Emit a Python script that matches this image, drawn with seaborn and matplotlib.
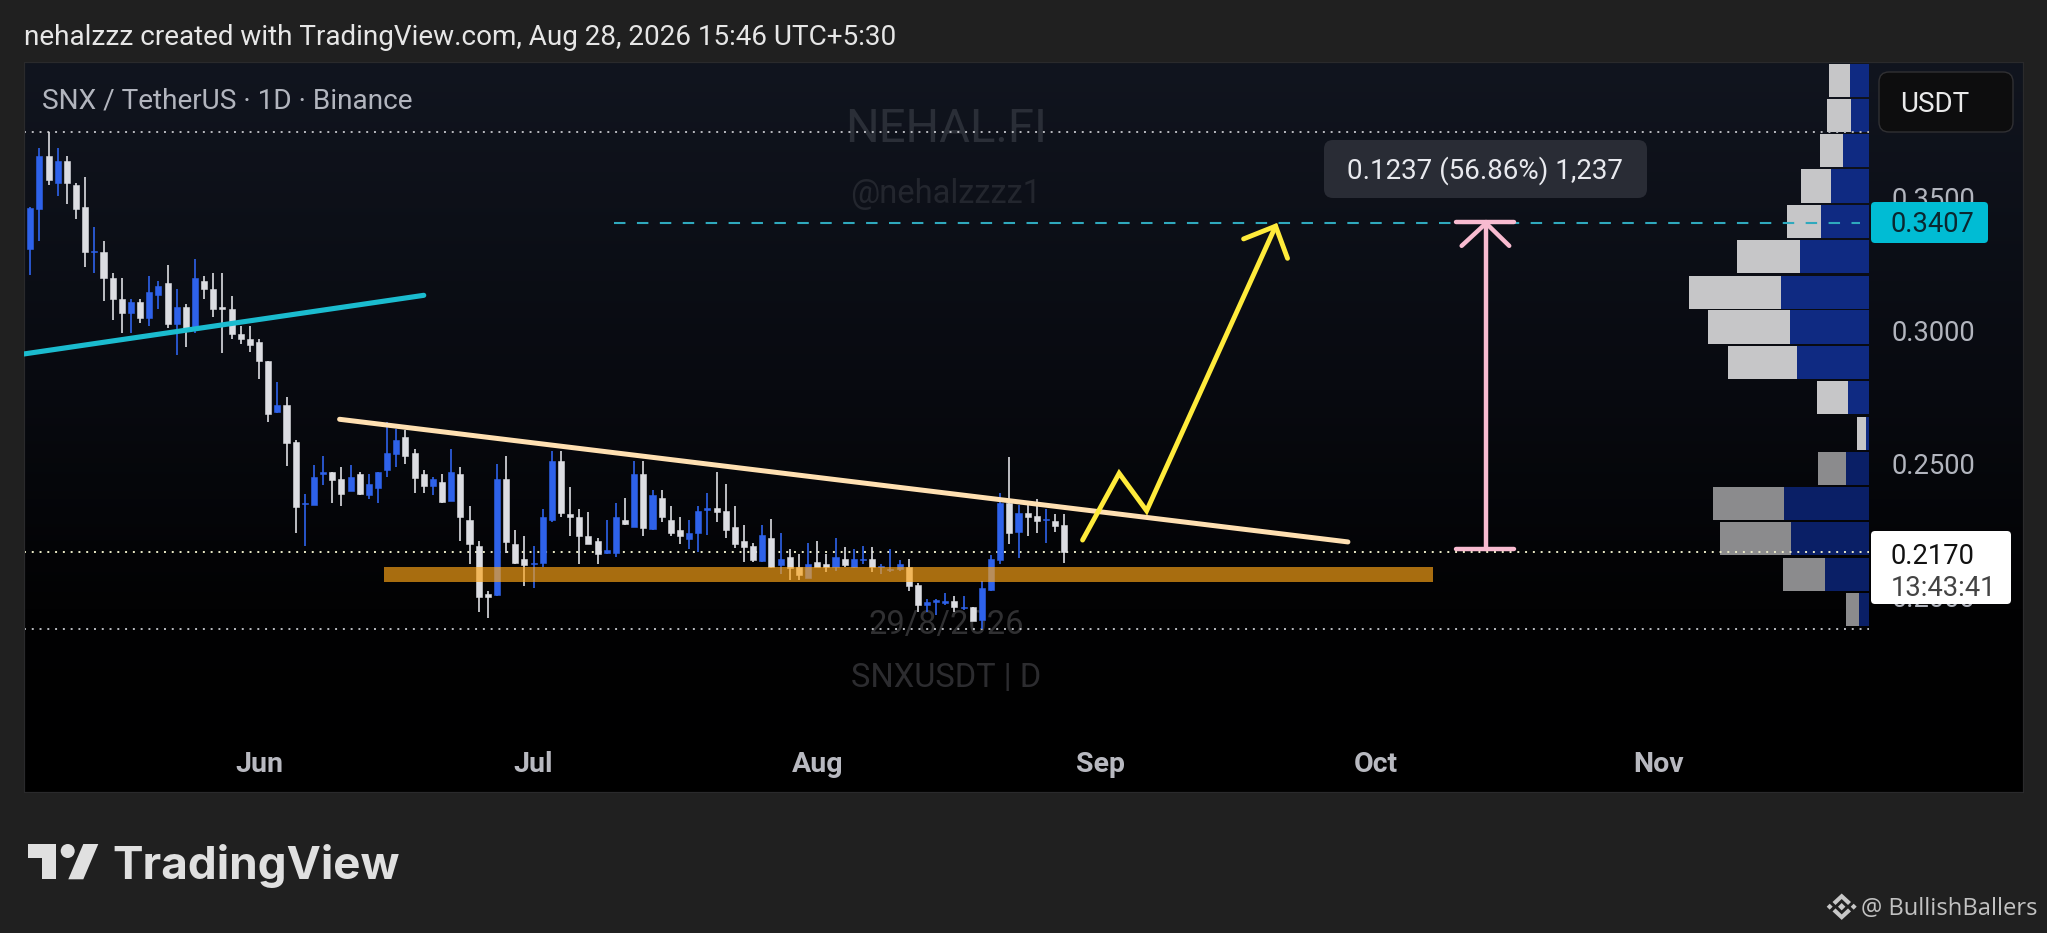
import numpy as np
import pandas as pd
import matplotlib
matplotlib.use('Agg')
import matplotlib.pyplot as plt
import matplotlib.dates as mdates
import seaborn as sns
from matplotlib.colors import LinearSegmentedColormap
from matplotlib.patches import FancyBboxPatch, Polygon, Circle
from matplotlib.transforms import IdentityTransform

# Daily candles, prices in 1/10000 USDT
first_day = '2026-05-07'
opens = [3308, 3458, 3657, 3557, 3639, 3548, 3467, 3297, 3298, 3199, 3120, 3069, 3110, 3049, 3136, 3179, 3028, 3091, 3006,
         3188, 3159, 3089, 3081, 2988, 2968, 2960, 2888, 2696, 2722, 2583, 2349, 2344, 2462, 2469, 2442, 2398, 2464, 2383,
         2409, 2477, 2537, 2600, 2540, 2462, 2417, 2433, 2359, 2462, 2291, 2191, 2013, 2008, 2442, 2201, 2141, 2124, 2126,
         2289, 2511, 2311, 2301, 2231, 2211, 2166, 2166, 2291, 2264, 2462, 2254, 2372, 2291, 2251, 2219, 2239, 2327, 2333,
         2323, 2262, 2212, 2192, 2136, 2222, 2119, 2151, 2111, 2071, 2130, 2124, 2111, 2141, 2111, 2139, 2141, 2111, 2101,
         2104, 2111, 2044, 1971, 1981, 1979, 1984, 1958, 1964, 1913, 2026, 2139, 2352, 2244, 2317, 2304, 2289, 2287, 2269]
closes = [3461, 3657, 3567, 3639, 3557, 3458, 3297, 3300, 3198, 3120, 3069, 3110, 3049, 3148, 3169, 3028, 3091, 3006, 3199,
          3156, 3081, 3081, 2988, 2968, 2948, 2888, 2689, 2722, 2580, 2339, 2354, 2452, 2469, 2439, 2389, 2452, 2387, 2423,
          2469, 2540, 2590, 2529, 2449, 2419, 2442, 2357, 2469, 2299, 2199, 2001, 2001, 2442, 2207, 2126, 2121, 2129, 2301,
          2511, 2316, 2299, 2229, 2199, 2161, 2176, 2301, 2276, 2462, 2259, 2382, 2299, 2239, 2229, 2241, 2323, 2333, 2319,
          2252, 2199, 2189, 2139, 2232, 2111, 2141, 2109, 2081, 2124, 2114, 2111, 2151, 2119, 2141, 2144, 2111, 2116, 2106,
          2124, 2041, 1971, 1981, 1989, 1985, 1961, 1964, 1911, 2034, 2141, 2352, 2242, 2317, 2302, 2284, 2293, 2267, 2170]
highs = [3467, 3689, 3749, 3689, 3659, 3557, 3577, 3389, 3339, 3219, 3199, 3120, 3120, 3208, 3188, 3249, 3159, 3100, 3269,
         3208, 3219, 3219, 3130, 3020, 3020, 2968, 2888, 2809, 2750, 2590, 2389, 2498, 2529, 2469, 2489, 2498, 2469, 2462,
         2469, 2659, 2630, 2627, 2558, 2479, 2452, 2462, 2558, 2489, 2342, 2211, 2023, 2499, 2529, 2251, 2231, 2191, 2332,
         2550, 2550, 2412, 2332, 2321, 2221, 2291, 2352, 2372, 2511, 2511, 2402, 2402, 2342, 2301, 2291, 2342, 2392, 2470,
         2423, 2342, 2270, 2202, 2270, 2292, 2242, 2179, 2160, 2202, 2210, 2161, 2222, 2189, 2182, 2192, 2189, 2124, 2179,
         2139, 2141, 2051, 1991, 1991, 2014, 2004, 2004, 1964, 2061, 2158, 2392, 2525, 2346, 2346, 2367, 2331, 2312, 2312]
lows = [3210, 3339, 3548, 3507, 3477, 3419, 3239, 3219, 3111, 3041, 2991, 2991, 3031, 3020, 3081, 3011, 2911, 2940, 2991,
        3120, 3051, 2919, 2971, 2951, 2921, 2820, 2659, 2690, 2492, 2241, 2191, 2344, 2420, 2352, 2343, 2398, 2382, 2369,
        2352, 2452, 2489, 2499, 2392, 2392, 2382, 2352, 2359, 2211, 2124, 1943, 1922, 2003, 2166, 2124, 2043, 2032, 2113,
        2281, 2301, 2231, 2124, 2199, 2124, 2161, 2151, 2271, 2264, 2231, 2251, 2281, 2231, 2201, 2181, 2170, 2233, 2283,
        2223, 2183, 2133, 2133, 2131, 2109, 2086, 2064, 2064, 2071, 2111, 2094, 2096, 2111, 2109, 2124, 2094, 2086, 2094,
        2096, 2024, 1945, 1945, 1933, 1971, 1943, 1951, 1911, 1881, 2024, 2124, 2199, 2146, 2229, 2239, 2204, 2244, 2126]

# Volume profile rows: row centre price, total and up volume, in arbitrary units
vp_prices = [3943, 3811, 3678, 3545, 3413, 3279, 3146, 3015, 2883, 2749, 2616, 2483, 2351, 2220, 2086, 1954]
vp_total = [121, 127, 147, 205, 247, 397, 540, 483, 423, 157, 36, 153, 470, 448, 259, 70]
vp_up = [58, 56, 80, 116, 146, 207, 266, 237, 217, 64, 10, 70, 255, 235, 132, 32]
vp_group = ['inner'] * 11 + ['outer'] * 5

# Drawings: days after the last bar, and prices
teal_days, teal_prices = [-114.0, -70.0], [2912, 3134]
cream_days, cream_prices = [-79.2, 31.0], [2668, 2207]
zone_days, zone_low, zone_high = [-74.38, 40.35], 2055, 2114
path_days, path_prices = [2.0, 6.0, 9.0, 23.1], [2214, 2465, 2324, 3394]
head_days, head_prices = [19.6, 23.1, 24.4], [3346, 3394, 3273]
pink_day, pink_low, pink_high = 46.1, 2179, 3411
pink_bar_days = [42.8, 49.2]
pink_head_days, pink_head_prices = [43.43, 46.1, 48.63], [3320, 3405, 3320]
target_days, target_price = [-49.2, 87.0], 3407
level_days, high_level, last_level, low_level = [-113.7, 88.0], 3749, 2170, 1881

month_ticks = ['2026-06-01', '2026-07-01', '2026-08-01', '2026-09-01', '2026-10-01', '2026-11-01']
month_labels = ['Jun', 'Jul', 'Aug', 'Sep', 'Oct', 'Nov']
price_ticks = [0.20, 0.25, 0.30, 0.35]
price_labels = ['0.2000', '0.2500', '0.3000', '0.3500']

W, H = 2047, 933
BLUE = '#2e62ea'
WHITE = '#dcdde2'

sns.set_theme(style='dark')
plt.rcParams['font.family'] = ['Roboto', 'DejaVu Sans']

fig = plt.figure(figsize=(W / 100, H / 100), dpi=100, facecolor='#202020')
ax = fig.add_axes([24 / W, 1 - 792 / H, (2023 - 24) / W, (792 - 62) / H])
ax_vp = ax.twiny()
ax.set_zorder(2)
ax_vp.set_zorder(1)
ax.patch.set_visible(False)

# Panel background
cmap = LinearSegmentedColormap.from_list('panel', [(0, '#11151f'), (0.45, '#080a10'), (0.75, '#020203'), (1, '#000000')])
ax_vp.imshow(np.linspace(0, 1, 256)[:, None], cmap=cmap, aspect='auto', extent=(0, 1, 0, 1),
             transform=ax_vp.transAxes, zorder=0)

# Volume profile, grows leftwards from the pane edge
vp = pd.DataFrame({'price': np.array(vp_prices) / 1e4, 'total': vp_total, 'up': vp_up, 'group': vp_group})
sns.barplot(data=vp, x='total', y='price', hue='group', palette={'inner': '#c6c6c8', 'outer': '#8b8b8d'}, orient='y',
            native_scale=True, dodge=False, width=0.95, saturation=1, errorbar=None, legend=False, ax=ax_vp, zorder=1,
            linewidth=0)
sns.barplot(data=vp, x='up', y='price', hue='group', palette={'inner': '#0f2a82', 'outer': '#0a1f66'}, orient='y',
            native_scale=True, dodge=False, width=0.95, saturation=1, errorbar=None, legend=False, ax=ax_vp, zorder=2,
            linewidth=0)

# Candles
days = mdates.date2num(pd.date_range(first_day, periods=len(opens)))
last_day = days[-1]
o, c = np.array(opens) / 1e4, np.array(closes) / 1e4
colors = [BLUE if b >= a else WHITE for a, b in zip(o, c)]
ax.vlines(days, np.array(lows) / 1e4, np.array(highs) / 1e4, colors=colors, linewidth=1.2, zorder=3)
ax.bar(days, np.abs(c - o), bottom=np.minimum(o, c), width=0.66, color=colors, edgecolor=colors, linewidth=0.4, zorder=3.1)


def draw(x, y, color, lw, z=5, **kw):
    # x in days after the last bar, y in 1/10000 USDT
    sns.lineplot(x=last_day + np.array(x), y=np.array(y) / 1e4, color=color, linewidth=lw, sort=False,
                 estimator=None, zorder=z, ax=ax, **kw)


# Horizontal levels
dots = (0, (1, 3))
draw(level_days, [high_level] * 2, '#b9bbc0', 1.4, z=2, linestyle=dots, dash_capstyle='butt')
draw(level_days, [last_level] * 2, '#ecebc8', 1.4, z=2, linestyle=dots, dash_capstyle='butt')
draw(level_days, [low_level] * 2, '#b9bbc0', 1.4, z=2, linestyle=dots, dash_capstyle='butt')
draw(target_days, [target_price] * 2, '#2fa9bd', 1.5, z=2, linestyle=(0, (5.5, 5.5)), dash_capstyle='butt')

# Support zone sits over the candles
ax.fill_between(last_day + np.array(zone_days), zone_low / 1e4, zone_high / 1e4, color='#ffa516', alpha=0.66, linewidth=0, zorder=4)

round_caps = dict(solid_capstyle='round', solid_joinstyle='miter')
draw(teal_days, teal_prices, '#1bbccf', 3.7, **round_caps)
draw(cream_days, cream_prices, '#ffe0b2', 3.6, **round_caps)
draw(path_days, path_prices, '#ffeb3b', 3.5, z=6, **round_caps)
draw(head_days, head_prices, '#ffeb3b', 3.5, z=6, **round_caps)
draw([pink_day, pink_day], [pink_low, pink_high], '#f8bbd0', 3.2, **round_caps)
draw(pink_bar_days, [pink_low, pink_low], '#f8bbd0', 3.2, **round_caps)
draw(pink_bar_days, [pink_high, pink_high], '#f8bbd0', 3.2, **round_caps)
draw(pink_head_days, pink_head_prices, '#f8bbd0', 3.2, **round_caps)

# Axes
ax.set_xlim(last_day - 113.69, last_day + 104.78)
ax.set_ylim(0.1267, 0.4011)
ax_vp.set_xlim(5536, -461)
ax_vp.set_xlabel('')
ax_vp.set_ylabel('')
ax_vp.tick_params(axis='x', top=False, bottom=False, labeltop=False, labelbottom=False)
ax.set_xlabel('')
ax.set_ylabel('')
ax.set_xticks(mdates.date2num(pd.to_datetime(month_ticks)))
ax.set_xticklabels(month_labels, fontweight='bold')
ax.tick_params(axis='x', length=0, pad=-29.7, labelsize=20.5, labelcolor='#b8b9c0')
ax.yaxis.tick_right()
ax.set_yticks(price_ticks)
ax.set_yticklabels(price_labels)
ax.tick_params(axis='y', length=0, pad=-95, labelsize=19.7, labelcolor='#b2b5be')
for a in (ax, ax_vp):
    for s in a.spines.values():
        s.set_color('#2a2a2c')
        s.set_linewidth(0.8)


def label(x, y, s, color, size, ha='left', weight='normal', z=12, on_axes=False):
    t = ax if on_axes else fig
    kw = dict(transform=fig.transFigure) if on_axes else {}
    t.text(x / W, 1 - y / H, s, color=color, fontsize=size, ha=ha, va='center', fontweight=weight, zorder=z, **kw)


def box(x0, y0, x1, y1, fc, ec='none', r=6):
    fig.add_artist(FancyBboxPatch((x0 + r, H - y1 + r), x1 - x0 - 2 * r, y1 - y0 - 2 * r, boxstyle=f'round,pad={r}',
                                  fc=fc, ec=ec, lw=1, transform=IdentityTransform(), zorder=10))


def shape(points, color):
    fig.add_artist(Polygon([(a, H - b) for a, b in points], closed=True, fc=color, ec='none',
                           transform=IdentityTransform(), zorder=10))


# Watermark
label(946, 129, 'NEHAL.FI', '#2a2e37', 34, ha='center', z=1, on_axes=True)
label(946, 194, '@nehalzzzz1', '#23262e', 23.5, ha='center', z=1, on_axes=True)
label(946, 625, '29/8/2026', '#303032', 23.5, ha='center', z=1, on_axes=True)
label(946, 678, 'SNXUSDT | D', '#2c2c2f', 23.5, ha='center', z=1, on_axes=True)

# Header and legend line
label(24, 37.5, 'nehalzzz created with TradingView.com, Aug 28, 2026 15:46 UTC+5:30', '#e6e6e6', 20.08)
label(42, 100.5, 'SNX / TetherUS · 1D · Binance', '#b2b5be', 20.2)

# Tags on the right
box(1879, 72, 2013, 132, '#0d0d0e', ec='#303033', r=10)
label(1900, 104, 'USDT', '#eaeaea', 20)
box(1871, 202, 1988, 243, '#00bcd4', r=4)
label(1891, 225, '0.3407', '#0b2730', 19.7)
box(1871, 531, 2011, 604, '#ffffff', r=4)
label(1891, 556, '0.2170', '#111111', 19.7)
label(1891, 588, '13:43:41', '#444444', 19.7)
box(1324, 140, 1647, 198, '#292c35', r=9)
label(1485, 171, '0.1237 (56.86%) 1,237', '#e8e9ee', 20, ha='center')

# Footer logo
LOGO = '#e0e0e0'
shape([(28.3, 844), (56, 844), (56, 879.3), (41.7, 879.3), (41.7, 858.3), (28.3, 858.3)], LOGO)
shape([(83.3, 844), (98.3, 844), (83.3, 879.3), (68.3, 879.3)], LOGO)
fig.add_artist(Circle((67.7, H - 851), 7, fc=LOGO, ec='none', transform=IdentityTransform(), zorder=10))
fig.text(112 / W, 1 - 879 / H, 'TradingView', color=LOGO, fontsize=33, fontweight='bold', family='Inter', va='baseline', zorder=12)

# Footer credit
ICON = '#c8c8c8'
shape([(1841.7, 903), (1845.4, 906.7), (1841.7, 910.4), (1838, 906.7)], ICON)
shape([(1829.7, 903.7), (1832.7, 906.7), (1829.7, 909.7), (1826.7, 906.7)], ICON)
shape([(1853.7, 903.7), (1856.7, 906.7), (1853.7, 909.7), (1850.7, 906.7)], ICON)
shape([(1841.7, 893.5), (1851, 902), (1848, 905), (1841.7, 899), (1835.5, 905), (1832.5, 902)], ICON)
shape([(1841.7, 919.9), (1851, 911.4), (1848, 908.4), (1841.7, 914.4), (1835.5, 908.4), (1832.5, 911.4)], ICON)
fig.text(1861 / W, 1 - 915 / H, '@ BullishBallers', color='#c2c2c2', fontsize=17.1, family='Open Sans', va='baseline', zorder=12)

fig.savefig('out.png', dpi=100, facecolor=fig.get_facecolor())
